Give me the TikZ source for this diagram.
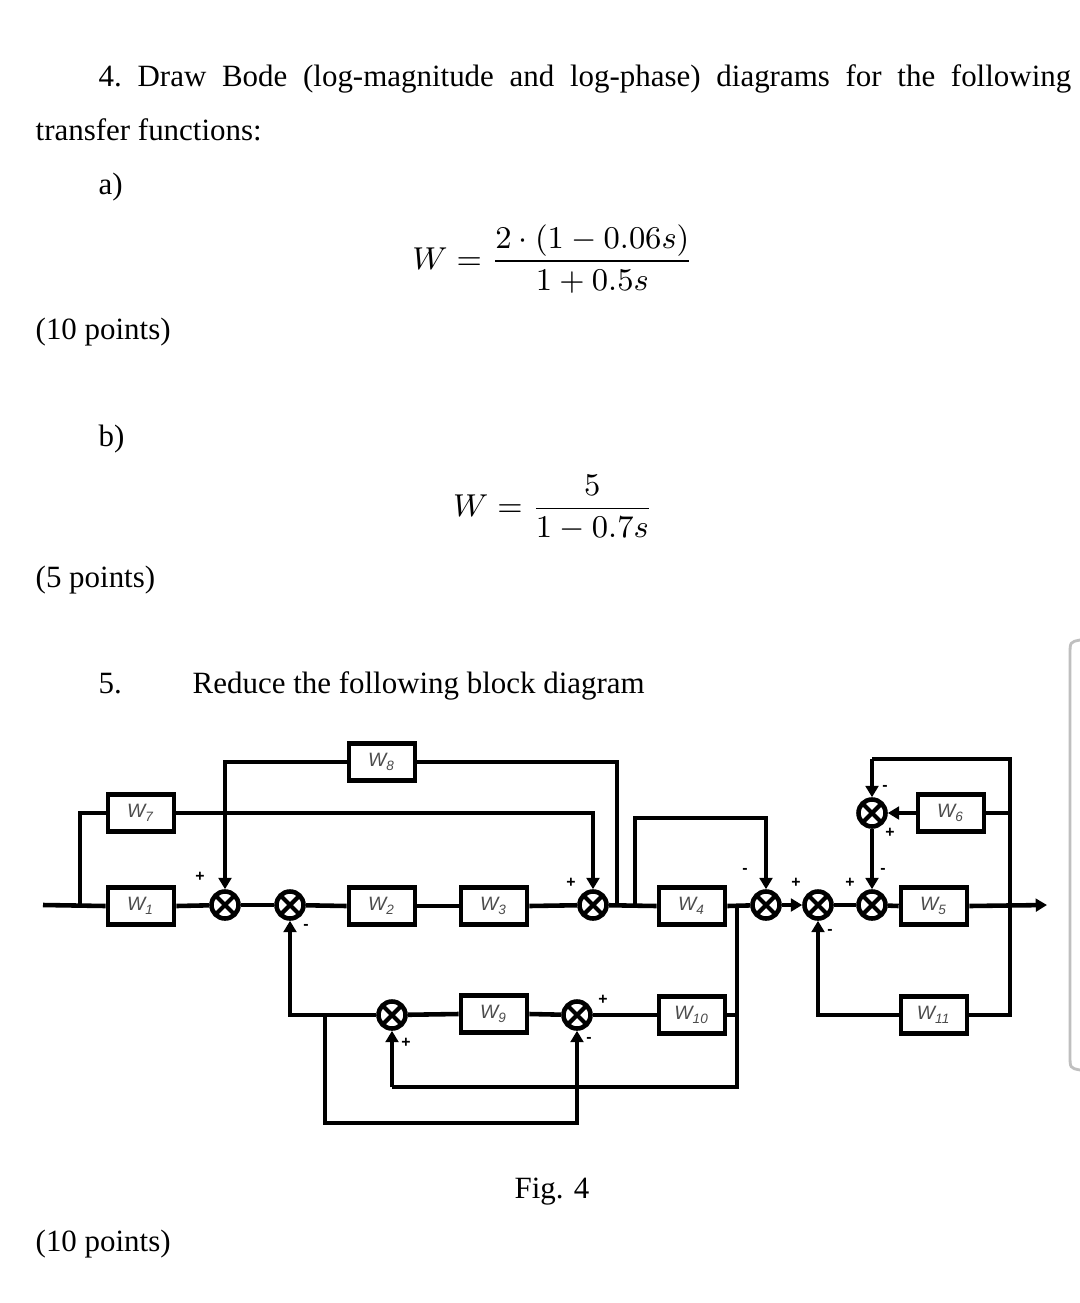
\documentclass[tikz,border=0pt]{standalone}
\usepackage{fontspec}
\setmainfont{Liberation Serif}
\newfontfamily\blk{Liberation Sans}
\usetikzlibrary{arrows.meta}
\begin{document}
\begin{tikzpicture}[x=0.01cm,y=-0.01cm,
  txt/.style={font=\fontsize{8.8}{10}\selectfont,inner sep=0pt},
  mth/.style={font=\fontsize{8.8}{10}\selectfont,inner sep=0pt},
  sgn/.style={font=\blk\fontsize{4.5}{5}\selectfont\bfseries,inner sep=0pt},
  blkw/.style={draw,line width=1.3pt,minimum width=0.66cm,minimum height=0.37cm,inner sep=0pt,fill=white,font=\blk\itshape\fontsize{5.5}{6}\selectfont,text=black!70},
  sum/.style={circle,draw,fill=white,line width=1.3pt,minimum size=0.27cm,inner sep=0pt,
    path picture={\draw[line width=1.2pt] (path picture bounding box.north west)--(path picture bounding box.south east) (path picture bounding box.north east)--(path picture bounding box.south west);}},
  ln/.style={line width=1.3pt},
  ar/.style={line width=1.3pt,-{Triangle[length=3.2pt,width=3.6pt]}}]
\useasboundingbox (0,0) rectangle (1080,1303);
\fill[white] (0,0) rectangle (1080,1303);
% right gray edge artefact
\draw[black!25,line width=0.8pt] (1080,640) .. controls (1070,642) .. (1070,655) -- (1070,1055) .. controls (1070,1068) .. (1080,1070);

% text
\node[txt,anchor=base west] (t1) at (98,86) {\hbox to 9.72cm{4.\hfill Draw\hfill Bode\hfill (log-magnitude\hfill and\hfill log-phase)\hfill diagrams\hfill for\hfill the\hfill following}};
\node[txt,anchor=base west] (t2) at (35,140) {transfer functions:};
\node[txt,anchor=base west] (t3) at (98,194) {a)};
\node[mth] (eqa) at (553,259) {$\displaystyle W=\frac{2\cdot(1-0.06s)}{1+0.5s}$};
\node[txt,anchor=base west] (t4) at (35,339) {(10 points)};
\node[txt,anchor=base west] (t5) at (98,446) {b)};
\node[mth] (eqb) at (553,508) {$\displaystyle W=\frac{5}{1-0.7s}$};
\node[txt,anchor=base west] (t6) at (35,587) {(5 points)};
\node[txt,anchor=base west] (t7) at (98,693) {5.};
\node[txt,anchor=base west] (t8) at (192,693) {Reduce the following block diagram};
\node[txt,anchor=base] (t9) at (552,1198) {Fig. 4};
\node[txt,anchor=base west] (t10) at (35,1251) {(10 points)};

% blocks
\node[blkw] (W7) at (141,813) {W\textsubscript{7}};
\node[blkw] (W1) at (141,906) {W\textsubscript{1}};
\node[blkw] (W8) at (382,762) {W\textsubscript{8}};
\node[blkw] (W2) at (382,906) {W\textsubscript{2}};
\node[blkw] (W3) at (494,906) {W\textsubscript{3}};
\node[blkw] (W9) at (494,1014) {W\textsubscript{9}};
\node[blkw] (W4) at (692,906) {W\textsubscript{4}};
\node[blkw] (W10) at (692,1015) {W\textsubscript{10}};
\node[blkw] (W6) at (951,813) {W\textsubscript{6}};
\node[blkw] (W5) at (934,906) {W\textsubscript{5}};
\node[blkw] (W11) at (934,1015) {W\textsubscript{11}};
% sums
\node[sum] (s1) at (225,905) {};
\node[sum] (s2) at (290,905) {};
\node[sum] (s3) at (593,905) {};
\node[sum] (s4) at (392,1015) {};
\node[sum] (s6) at (577,1015) {};
\node[sum] (s7) at (766,905) {};
\node[sum] (s8) at (818,905) {};
\node[sum] (s9) at (872,905) {};
\node[sum] (s10) at (872,813) {};
% coordinates
\coordinate (in) at (43,905);
\coordinate (j1) at (80,905);
\coordinate (out) at (1047,905);
\coordinate (jo) at (1010,905);

% main line
\draw[ln] (in) -- (W1.west);
\draw[ln] (j1) -- (80,813) -- (W7.west);
\draw[ln] (W1.east) -- (s1);
\draw[ln] (s1) -- (s2);
\draw[ln] (s2) -- (W2.west);
\draw[ln] (W2.east) -- (W3.west);
\draw[ln] (W3.east) -- (s3);
\draw[ln] (s3) -- (W4.west);
\draw[ln] (W4.east) -- (s7);
\draw[ar] (s7) -- (s8);
\draw[ln] (s8) -- (s9);
\draw[ln] (s9) -- (W5.west);
\draw[ar] (W5.east) -- (out);
% forward paths
\draw[ar] (W7.east) -- (593,813) -- (s3.north);
\draw[ar] (W8.west) -- (225,762) -- (s1.north);
\draw[ln] (W8.east) -- (617,762) -- (617,905);
\draw[ar] (635,905) -- (635,818) -- (766,818) -- (s7.north);
% lower loops
\draw[ln] (737,905) -- (737,1087) -- (392,1087);
\draw[ar] (392,1087) -- (s4.south);
\draw[ln] (W10.east) -- (737,1015);
\draw[ar] (s4.west) -- (290,1015) -- (s2.south);
\draw[ar] (325,1015) -- (325,1123) -- (577,1123) -- (s6.south);
\draw[ln] (s4) -- (W9.west);
\draw[ln] (W9.east) -- (s6);
\draw[ln] (s6) -- (W10.west);
% right loops
\draw[ar] (W11.west) -- (818,1015) -- (s8.south);
\draw[ln] (W11.east) -- (1010,1015) -- (1010,759) -- (872,759);
\draw[ar] (872,759) -- (s10.north);
\draw[ln] (W6.east) -- (1010,813);
\draw[ar] (W6.west) -- (s10.east);
\draw[ar] (s10.south) -- (s9.north);

% signs
\node[sgn] (p1) at (200,877) {+};
\node[sgn] (m2) at (306,927) {-};
\node[sgn] (p3) at (571,883) {+};
\node[sgn] (p4) at (406,1043) {+};
\node[sgn] (p6) at (603,1000) {+};
\node[sgn] (m6) at (589,1040) {-};
\node[sgn] (m7) at (745,871) {-};
\node[sgn] (p8) at (796,883) {+};
\node[sgn] (m8) at (830,932) {-};
\node[sgn] (p9) at (850,883) {+};
\node[sgn] (m9) at (883,871) {-};
\node[sgn] (m10) at (885,788) {-};
\node[sgn] (p10) at (890,833) {+};
\end{tikzpicture}
\end{document}
